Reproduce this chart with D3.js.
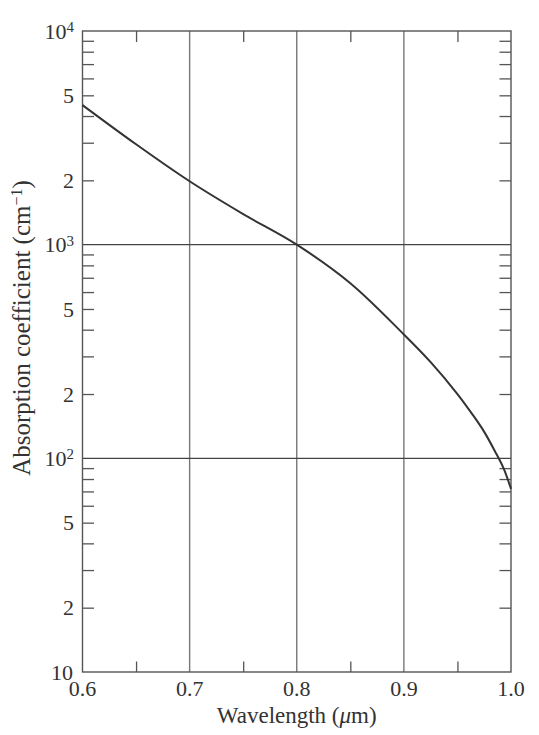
<!DOCTYPE html>
<html>
<head>
<script src="https://d3js.org/d3.v7.min.js"></script>
<style>
  body { margin: 0; background: #fff; }
  text { font-family: "Liberation Serif", "Times New Roman", serif; fill: #333; }
</style>
</head>
<body>
<div id="chart"></div>
<script>
// data
const wavelength = [0.6, 0.65, 0.7, 0.75, 0.8, 0.85, 0.9, 0.925, 0.95, 0.965, 0.975, 0.985, 0.993, 1.0];
const absorption = [4500, 2950, 1980, 1390, 1000, 660, 380, 282, 200, 158, 133, 108, 90, 72];

const xTickValues = [0.6, 0.7, 0.8, 0.9, 1.0];
const xMinorTicks = [0.65, 0.75, 0.85, 0.95];
const xGrid = [0.7, 0.8, 0.9];
const yLabelValues = [10, 20, 50, 100, 200, 500, 1000, 2000, 5000, 10000];
const yGrid = [100, 1000];

const width = 539, height = 735;
const margin = {top: 31, right: 28, bottom: 63, left: 82.5};

const svg = d3.select("#chart").append("svg")
    .attr("width", width)
    .attr("height", height);

const x = d3.scaleLinear().domain([0.6, 1.0]).range([margin.left, width - margin.right]);
const y = d3.scaleLog().domain([10, 10000]).range([height - margin.bottom, margin.top]);

// minor ticks 2..9 in every decade
const yMinor = [];
[10, 100, 1000].forEach(d => { for (let k = 2; k <= 9; k++) yMinor.push(d * k); });

const frameColor = "#555";

// grid lines
svg.append("g").selectAll("line").data(xGrid).enter().append("line")
    .attr("x1", d => x(d)).attr("x2", d => x(d))
    .attr("y1", y(10)).attr("y2", y(10000))
    .attr("stroke", "#777").attr("stroke-width", 1.4);

svg.append("g").selectAll("line").data(yGrid).enter().append("line")
    .attr("x1", x(0.6)).attr("x2", x(1.0))
    .attr("y1", d => y(d)).attr("y2", d => y(d))
    .attr("stroke", "#444").attr("stroke-width", 1.2);

// inward minor ticks on all four sides
function styleAxis(g) {
    g.select(".domain").remove();
    g.selectAll(".tick line").attr("stroke", frameColor).attr("stroke-width", 1.3);
}
svg.append("g").attr("transform", `translate(${margin.left},0)`)
    .call(d3.axisLeft(y).tickValues(yMinor).tickSize(-11.5).tickFormat(""))
    .call(styleAxis);
svg.append("g").attr("transform", `translate(${width - margin.right},0)`)
    .call(d3.axisRight(y).tickValues(yMinor).tickSize(-11.5).tickFormat(""))
    .call(styleAxis);
svg.append("g").attr("transform", `translate(0,${height - margin.bottom})`)
    .call(d3.axisBottom(x).tickValues(xMinorTicks).tickSize(-10.5).tickFormat(""))
    .call(styleAxis);
svg.append("g").attr("transform", `translate(0,${margin.top})`)
    .call(d3.axisTop(x).tickValues(xMinorTicks).tickSize(-11).tickFormat(""))
    .call(styleAxis);

// frame
svg.append("rect")
    .attr("x", x(0.6)).attr("y", y(10000))
    .attr("width", x(1.0) - x(0.6)).attr("height", y(10) - y(10000))
    .attr("fill", "none").attr("stroke", frameColor).attr("stroke-width", 1.4);

// curve
const line = d3.line()
    .x((d, i) => x(wavelength[i]))
    .y(d => y(d))
    .curve(d3.curveCatmullRom.alpha(0.5));

svg.append("path")
    .datum(absorption)
    .attr("fill", "none")
    .attr("stroke", "#333")
    .attr("stroke-width", 2)
    .attr("d", line);

// y tick labels
const yLab = svg.append("g").selectAll("text").data(yLabelValues).enter().append("text")
    .attr("x", 74)
    .attr("y", d => y(d))
    .attr("dy", "0.35em")
    .attr("text-anchor", "end")
    .attr("font-size", 22);
yLab.each(function(d) {
    const t = d3.select(this);
    const e = Math.round(Math.log10(d));
    if (Math.abs(d - Math.pow(10, e)) < 1e-6) {
        t.append("tspan").text("10");
        if (e > 1) t.append("tspan").attr("font-size", 15).attr("dy", "-0.45em").text(e);
        else t.attr("x", 73);
    } else {
        t.text(String(d / Math.pow(10, Math.floor(Math.log10(d)))));
    }
});

// x tick labels
svg.append("g").selectAll("text").data(xTickValues).enter().append("text")
    .attr("x", d => x(d))
    .attr("y", 696)
    .attr("text-anchor", "middle")
    .attr("font-size", 22)
    .text(d => d.toFixed(1));

// axis titles
const xt = svg.append("text")
    .attr("x", (x(0.6) + x(1.0)) / 2)
    .attr("y", 723)
    .attr("text-anchor", "middle")
    .attr("font-size", 23);
xt.append("tspan").text("Wavelength (");
xt.append("tspan").attr("font-style", "italic").text("μ");
xt.append("tspan").text("m)");

const yt = svg.append("text")
    .attr("transform", `translate(30,${328}) rotate(-90)`)
    .attr("text-anchor", "middle")
    .attr("font-size", 25);
yt.append("tspan").text("Absorption coefficient (cm");
yt.append("tspan").attr("font-size", 16).attr("dy", "-0.5em").text("−1");
yt.append("tspan").attr("dy", "0.33em").text(")");
</script>
</body>
</html>
